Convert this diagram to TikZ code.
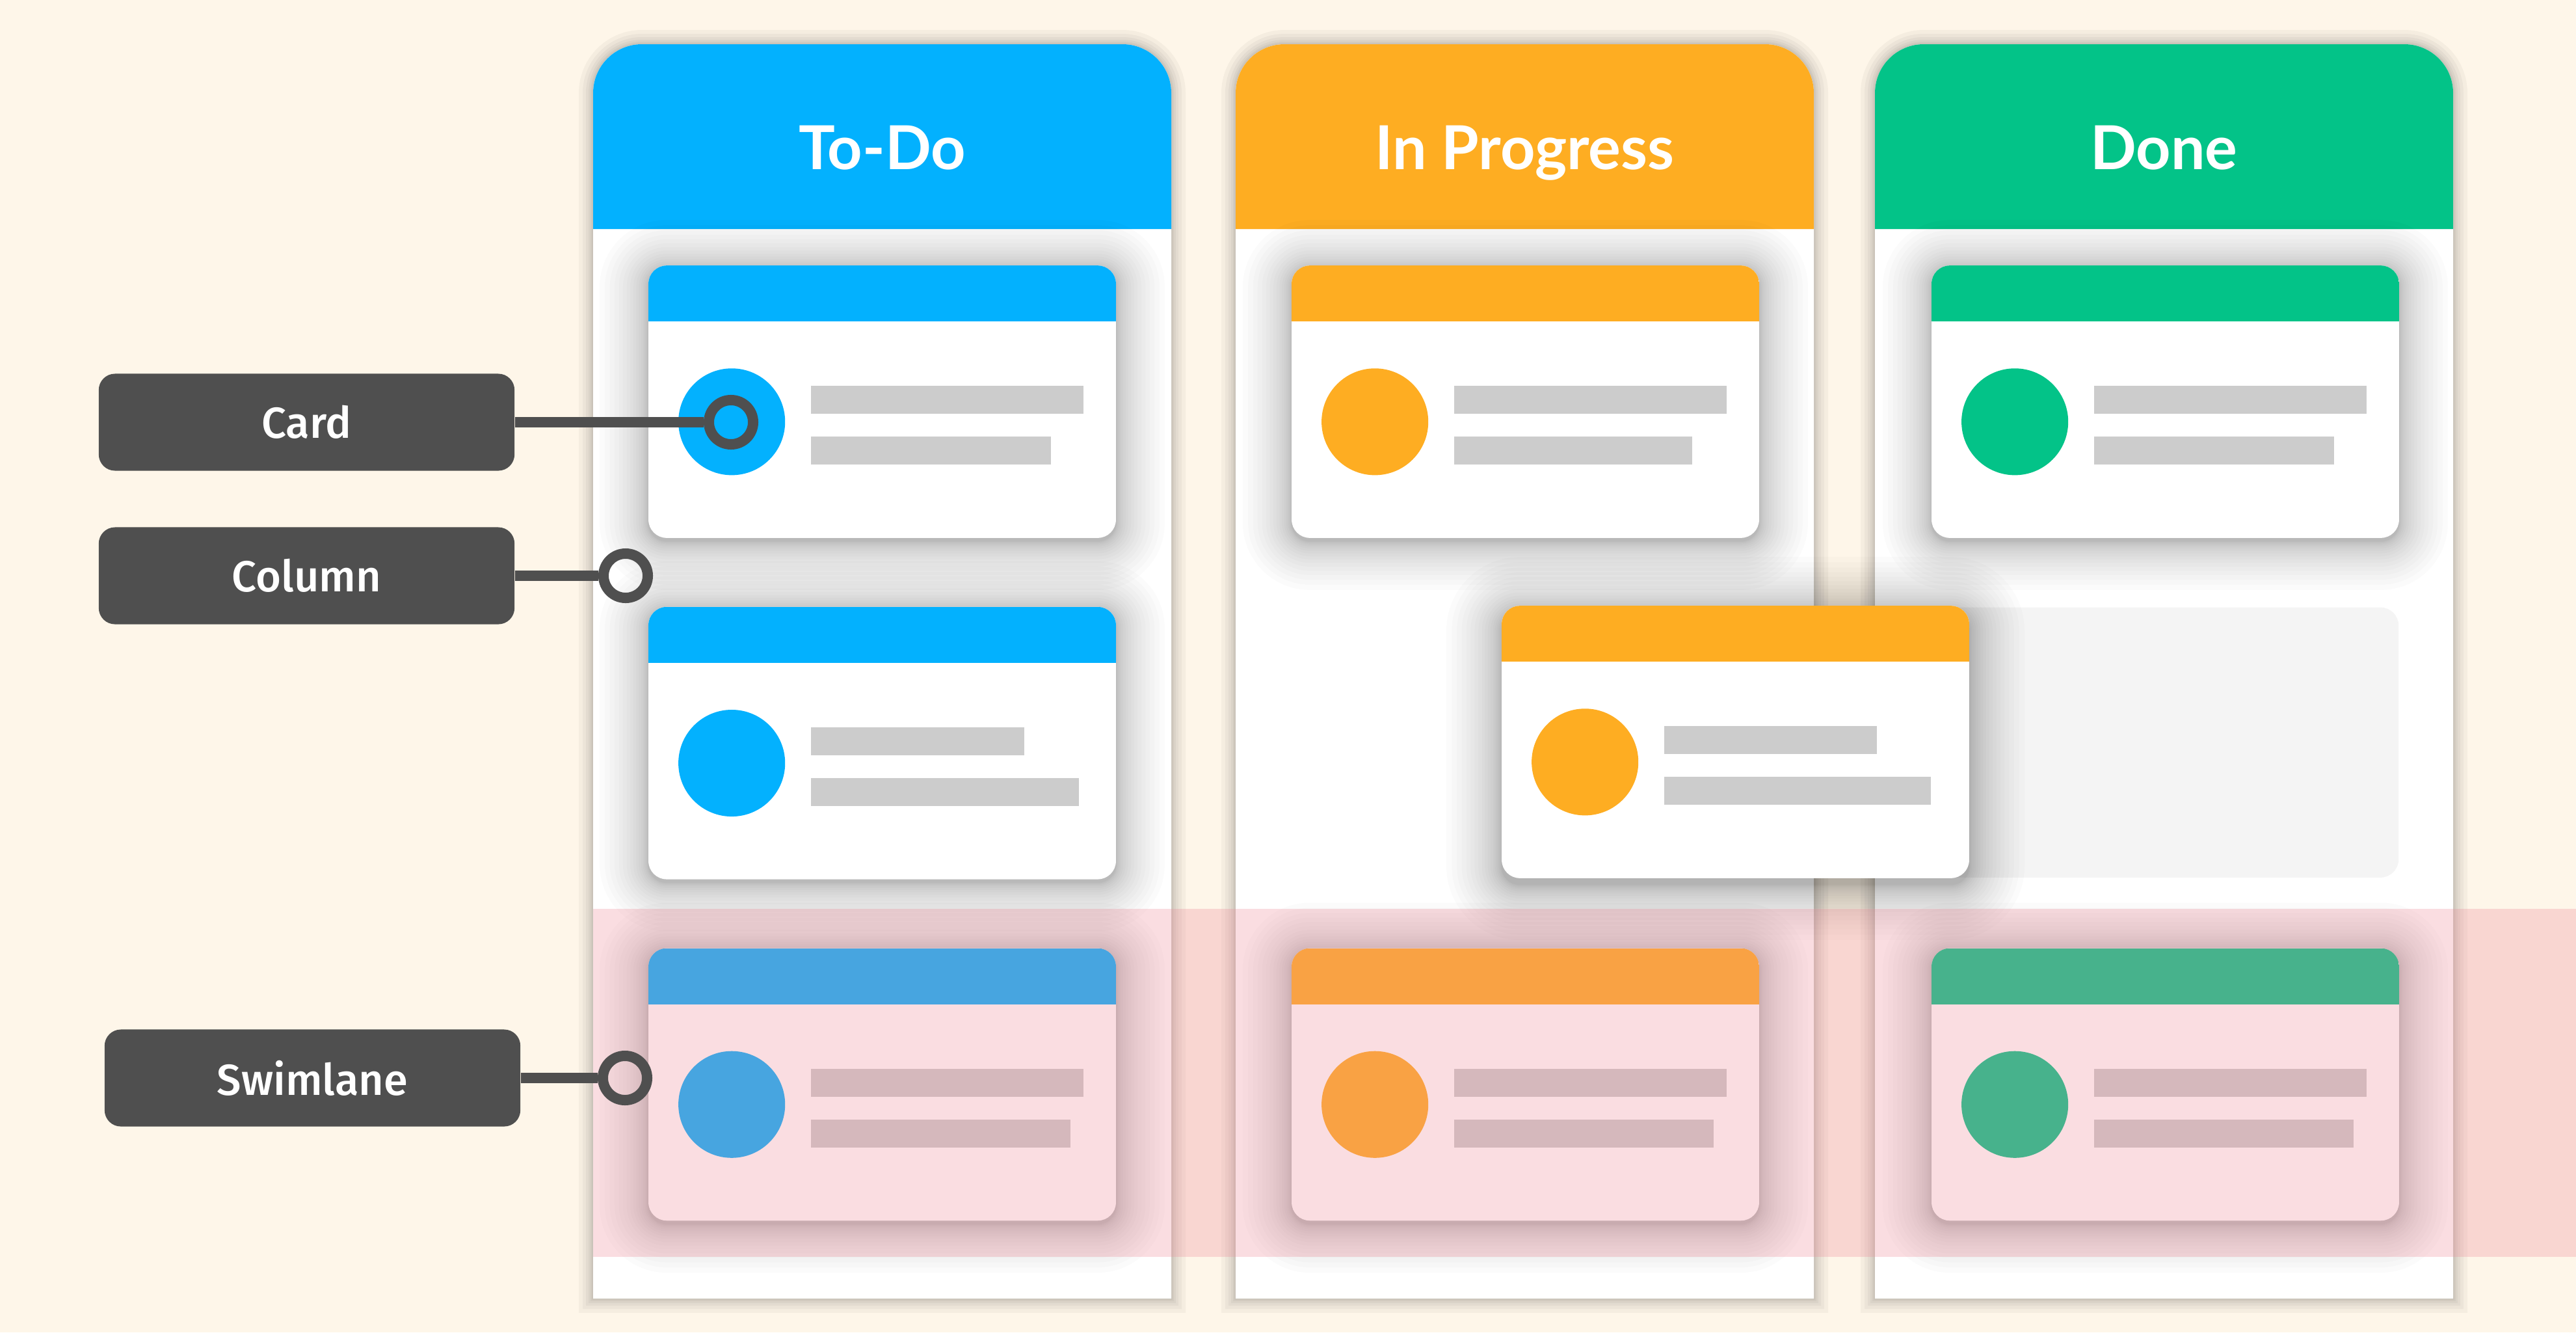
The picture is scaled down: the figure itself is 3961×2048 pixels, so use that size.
\documentclass[tikz,border=0pt]{standalone}
\usepackage{fontspec}
\usetikzlibrary{positioning}
\newfontfamily\headfont{Lato}
\newfontfamily\tagfont{Fira Sans Medium}

\definecolor{paper}{HTML}{FEF6E9}
\definecolor{todo}{HTML}{03B1FE}
\definecolor{prog}{HTML}{FEAD22}
\definecolor{done}{HTML}{03C388}
\definecolor{tagGray}{HTML}{4F4F4F}
\definecolor{barGray}{HTML}{CCCCCC}
\definecolor{slot}{HTML}{F4F4F4}
\definecolor{lane}{RGB}{238,138,152}

% soft shadow under a box: {sw}{ne}{steps}{spread}{drop}{opacity}
\newcommand{\softshadow}[6]{%
  \foreach \k in {1,...,#3}{
    \pgfmathsetmacro\e{#4*(\k/#3)^2}
    \fill[black, fill opacity=#6, rounded corners={0.28cm+\e pt}]
      ([shift={({-\e pt},{-#5-\e pt})}]#1) rectangle ([shift={({\e pt},{-#5+\e pt})}]#2);
  }
}

% one card: [lift]{name}{placement}{colour}{bar 1}{bar 2}
\newcommand{\kcard}[6][0]{%
  \node[cardspot, #3] (#2) {};
  \ifnum#1=0
    \softshadow{#2.south west}{#2.north east}{18}{0.75cm}{0.05cm}{0.015}
  \else
    \softshadow{#2.south west}{#2.north east}{20}{0.85cm}{0.10cm}{0.016}
  \fi
  \fill[white, rounded corners=0.28cm] (#2.south west) rectangle (#2.north east);
  \begin{scope}
    \clip[rounded corners=0.28cm] (#2.south west) rectangle (#2.north east);
    \fill[#4] (#2.north west) rectangle ([yshift=-0.86cm]#2.north east);
  \end{scope}
  \node[avatar, fill=#4] (#2-av) at ([xshift=1.28cm,yshift=-2.40cm]#2.north west) {};
  \fill[barGray] ([xshift=2.50cm,yshift=-1.85cm]#2.north west) rectangle ++(#5,-43);
  \fill[barGray] ([xshift=2.50cm,yshift=-2.63cm]#2.north west) rectangle ++(#6,-43);
}

% one column: {name}{left x}{colour}{title}
\newcommand{\kcol}[4]{%
  \foreach \g in {2,4,7,11,16,22}{
    \fill[black, fill opacity=0.035]
      ({#2-\g},{-1996-\g}) -- ({#2-\g},-143) arc[start angle=180, end angle=90, radius={75+\g}]
      -- ({#2+814},{-68+\g}) arc[start angle=90, end angle=0, radius={75+\g}]
      -- ({#2+889+\g},{-1996-\g}) -- cycle;
  }
  \fill[white] (#2,-1996) -- (#2,-143) arc[start angle=180, end angle=90, radius=75]
    -- ({#2+814},-68) arc[start angle=90, end angle=0, radius=75]
    -- ({#2+889},-1996) -- cycle;
  \fill[#3] (#2,-352) -- (#2,-143) arc[start angle=180, end angle=90, radius=75]
    -- ({#2+814},-68) arc[start angle=90, end angle=0, radius=75]
    -- ({#2+889},-352) -- cycle;
  \node[coltitle] (#1) at ({#2+444.5},-260) {#4};
}

\begin{document}
\begin{tikzpicture}[
    x=0.01cm, y=0.01cm,
    node distance=1.06cm and 2.70cm,
    cardspot/.style={rectangle, inner sep=0pt,
      minimum width=7.17cm, minimum height=4.17cm},
    slotbox/.style={rectangle, rounded corners=0.28cm, fill=slot, inner sep=0pt,
      minimum width=7.17cm, minimum height=4.15cm},
    avatar/.style={circle, inner sep=0pt, minimum size=1.64cm},
    coltitle/.style={anchor=base, text=white, inner sep=0pt,
      font=\headfont\bfseries\fontsize{26.5}{32}\selectfont},
    tag/.style={rectangle, rounded corners=0.25cm, fill=tagGray, text=white,
      minimum width=6.39cm, minimum height=1.49cm,
      font=\tagfont\fontsize{19}{23}\selectfont},
    pin/.style={circle, draw=tagGray, line width=0.16cm, inner sep=0pt,
      minimum size=0.68cm},
    wire/.style={draw=tagGray, line width=0.155cm}
    ]

    \fill[paper] (0,0) rectangle (3961,-2048);
    \useasboundingbox (0,0) rectangle (3961,-2048);

    \kcol{colTodo}{912}{todo}{To-Do}
    \kcol{colProg}{1900}{prog}{In Progress}
    \kcol{colDone}{2883}{done}{Done}

    \kcard{todoA}{at={(1356.5,-617.5)}}{todo}{419}{369}
    \kcard{todoB}{below=of todoA}{todo}{328}{412}
    \kcard{todoC}{below=of todoB}{todo}{419}{399}

    \kcard{progA}{right=of todoA}{prog}{419}{366}
    \kcard{progC}{right=of todoC}{prog}{419}{399}

    \kcard{doneA}{right=2.65cm of progA}{done}{419}{369}
    \node[slotbox, below=of doneA] (doneB) {};
    \kcard{doneC}{right=2.65cm of progC}{done}{419}{399}

    % the card being moved
    \kcard[1]{progB}{at={(2668.5,-1140.5)}}{prog}{327}{410}

    % swimlane
    \fill[lane, fill opacity=0.29] (912,-1397) rectangle (3961,-1932);

    \node[tag] (tagCard) at (471.5,-649) {Card};
    \node[tag] (tagColumn) at (471.5,-885) {Column};
    \node[tag] (tagLane) at (480.5,-1657) {Swimlane};

    \node[pin] (pinCard) at (1124,-649) {};
    \node[pin] (pinColumn) at (962,-885) {};
    \node[pin] (pinLane) at (961,-1657) {};

    \path (tagCard) edge[wire] (pinCard)
    (tagColumn) edge[wire] (pinColumn)
    (tagLane) edge[wire] (pinLane)
    ;

  \end{tikzpicture}
\end{document}
